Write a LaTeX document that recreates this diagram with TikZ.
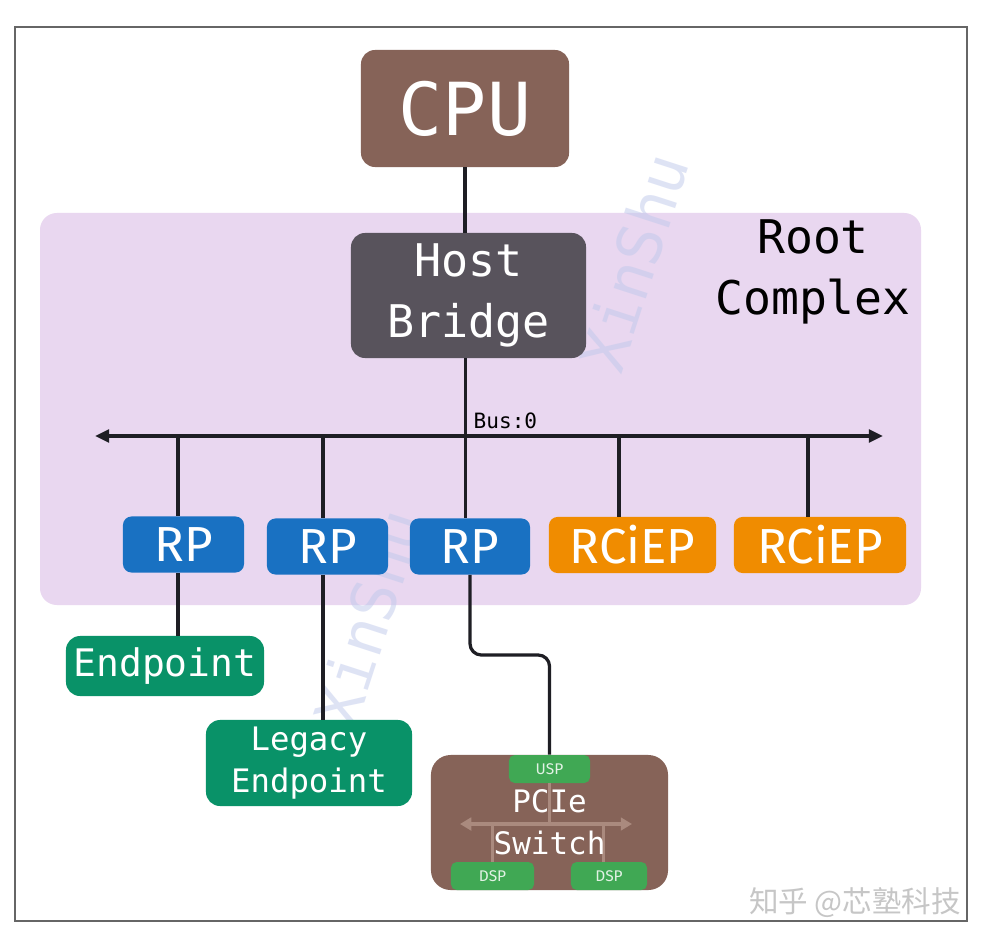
\documentclass[tikz,border=0pt]{standalone}
\usepackage{fontspec}
\setmainfont{DejaVu Sans Mono}
\newfontfamily\portfont{Fira Sans}
\newfontfamily\cjkfont{Noto Sans CJK SC}
\usetikzlibrary{arrows.meta,positioning,calc}
\definecolor{cpubrown}{RGB}{134,99,88}
\definecolor{hbgray}{RGB}{88,83,92}
\definecolor{rclav}{RGB}{233,215,240}
\definecolor{rpblue}{RGB}{25,113,194}
\definecolor{rcorange}{RGB}{240,140,0}
\definecolor{epgreen}{RGB}{9,146,104}
\definecolor{portgreen}{RGB}{64,168,84}
\definecolor{sbus}{RGB}{170,138,126}
\definecolor{wire}{RGB}{30,30,36}
\definecolor{wmark}{RGB}{190,200,235}

\tikzset{
  box/.style={rounded corners=10pt,inner sep=0pt,text=white,align=center},
  rpbox/.style={box,fill=rpblue,rounded corners=6pt,minimum width=3.0cm,
    minimum height=1.4cm,font=\portfont\fontsize{35}{40}\selectfont},
  rcbox/.style={box,fill=rcorange,rounded corners=6pt,minimum height=1.4cm,
    font=\portfont\fontsize{35}{40}\selectfont},
  epbox/.style={box,fill=epgreen},
  portbox/.style={box,fill=portgreen,rounded corners=4pt,minimum height=0.7cm,
    text=white!85!portgreen,font=\portfont\fontsize{11}{13}\selectfont},
  link/.style={draw=wire,line width=2.3pt},
  swlink/.style={draw=sbus,line width=2.3pt},
  watermark/.style={text=wmark,opacity=0.5,rotate=72,
    font=\fontsize{44}{48}\selectfont}
}

\begin{document}
\begin{tikzpicture}[x=0.025cm,y=-0.025cm]

  % canvas and frame
  \useasboundingbox (0,0) rectangle (991,944);
  \fill[white] (0,0) rectangle (991,944);
  \draw[gray!80!black,line width=0.8pt] (15,27) rectangle (967,921);

  % root complex area
  \fill[rclav,rounded corners=12pt] (40,213) rectangle (921,605);
  \node[align=center,font=\fontsize{33}{43}\selectfont] (rclabel) at (813,272)
    {Root\\Complex};

  % watermarks
  \node[watermark] (wm1) at (634,262) {XinShu};
  \node[watermark] (wm2) at (368,618) {XinShu};

  % cpu and host bridge
  \node[box,fill=cpubrown,minimum width=5.2cm,minimum height=2.925cm,
    font=\fontsize{52}{56}\selectfont] (cpu) at (465,108.5) {CPU};
  \node[box,fill=hbgray,minimum width=5.875cm,minimum height=3.125cm,
    font=\fontsize{32}{43}\selectfont] (hb) at (468.5,295.5) {Host\\Bridge};

  % bus 0
  \coordinate (busW) at (95,436);
  \coordinate (busE) at (883,436);
  \draw[link,{Triangle[length=10pt,width=9pt]}-{Triangle[length=10pt,width=9pt]}]
    (busW) -- (busE);
  \node[anchor=south west,inner sep=1pt,font=\fontsize{15}{17}\selectfont]
    (busname) at (472,430) {Bus:0};

  % root ports and integrated endpoints
  \node[rpbox,minimum width=3.025cm] (rp1) at (183.5,544.5) {RP};
  \node[rpbox,minimum width=3.025cm] (rp2) at (327.5,546.5) {RP};
  \node[rpbox] (rp3) at (470,546.5) {RP};
  \node[rcbox,minimum width=4.175cm] (rce1) at (632.5,545) {RCiEP};
  \node[rcbox,minimum width=4.3cm] (rce2) at (820,545) {RCiEP};

  % endpoints
  \node[epbox,minimum width=4.95cm,minimum height=1.5cm,
    font=\fontsize{27}{30}\selectfont] (ep) at (165,666) {Endpoint};
  \node[epbox,minimum width=5.15cm,minimum height=2.15cm,
    font=\fontsize{23}{30}\selectfont] (lep) at (309,763) {Legacy\\Endpoint};

  % pcie switch
  \node[box,fill=cpubrown,rounded corners=14pt,minimum width=5.925cm,
    minimum height=3.375cm] (sw) at (549.5,822.5) {};
  \node[portbox,minimum width=2.025cm] (usp) at (549.5,769) {USP};
  \node[portbox,minimum width=2.075cm] (dsp1) at (492.5,876) {DSP};
  \node[portbox,minimum width=1.9cm] (dsp2) at (609,876) {DSP};
  \coordinate (sbW) at (460,824);
  \coordinate (sbE) at (632,824);
  \draw[swlink,{Triangle[length=8pt,width=9pt]}-{Triangle[length=8pt,width=9pt]}]
    (sbW) -- (sbE);
  \draw[swlink] (usp.south) -- (usp.south |- sbW);
  \draw[swlink] (dsp1.north |- sbW) -- (dsp1.north);
  \draw[swlink] ([xshift=-4]dsp2.north |- sbW) -- ([xshift=-4]dsp2.north);
  \node[align=center,text=white,font=\fontsize{22}{30}\selectfont]
    (swname) at (sw) {PCIe\\Switch};

  % wiring
  \draw[link] (cpu.south) -- (cpu.south |- hb.north);
  \draw[link] ([xshift=-2]hb.south) -- ([xshift=-2]hb.south |- rp3.north);
  \foreach \n/\x in {rp1/178,rp2/323,rce1/619,rce2/808}
  {
    \coordinate (t\n) at (\x,436);
    \draw[link] (t\n) -- (t\n |- \n.north);
  }
  \draw[link] (rp1.south -| trp1) -- (trp1 |- ep.north);
  \draw[link] (rp2.south -| trp2) -- (trp2 |- lep.north);
  \coordinate (kink) at (0,655);
  \draw[link,rounded corners=8pt] (rp3.south) -- (rp3.south |- kink)
    -- (usp.north |- kink) -- (usp.north);

  % site mark
  \node[anchor=east,text=gray!45,font=\cjkfont\fontsize{21}{24}\selectfont]
    (site) at (966,903) {知乎 @芯塾科技};

\end{tikzpicture}
\end{document}
